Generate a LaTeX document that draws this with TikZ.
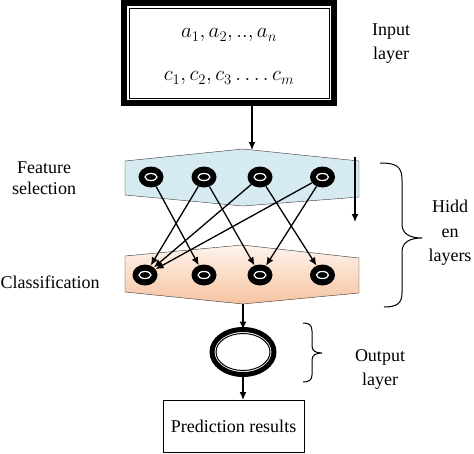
\RequirePackage{fix-cm}
\documentclass[tikz,border=0pt]{standalone}
\usepackage{fontspec}
\setmainfont{Liberation Serif}
\usepackage{tikz}
\usetikzlibrary{shapes.geometric, arrows.meta, positioning}
\definecolor{featblue}{RGB}{214,234,242}
\definecolor{clspeach}{RGB}{246,196,160}
\definecolor{clslight}{RGB}{254,244,237}
\tikzstyle{inputbox} = [rectangle, minimum width=210pt, minimum height=100pt, line width=6pt, outer sep=0pt, align=center, font=\fontsize{21}{25}\selectfont, draw=black]
\tikzstyle{neuron} = [ellipse, minimum width=25pt, minimum height=21pt, inner sep=0pt, fill=black, path picture={\draw[white, line width=1.2pt] (path picture bounding box.center) ellipse (6pt and 3.5pt);}]
\tikzstyle{outnode} = [ellipse, minimum width=62pt, minimum height=45pt, line width=5pt, outer sep=0pt, draw=black]
\tikzstyle{resultbox} = [rectangle, minimum width=141pt, minimum height=52pt, line width=1pt, outer sep=0pt, draw=black]
\tikzstyle{layerlabel} = [align=center, inner sep=0pt]
\tikzstyle{arrow} = [line width=1.3pt, -{Latex[length=8pt, width=7pt]}]

\begin{document}
\begin{tikzpicture}[x=1pt, y=-1pt, font=\fontsize{18}{24}\selectfont]
	\useasboundingbox (0,0) rectangle (474,453);

	% layer bands
	\draw [fill=featblue, draw=black!80] (125,161) -- (243,149) -- (359,161) -- (359,197) -- (243,206) -- (125,195) -- cycle;
	\shadedraw [top color=clslight, bottom color=clspeach, draw=black!80] (125,256) -- (242,245) -- (359,258) -- (359,293) -- (243,304) -- (125,292) -- cycle;

	\node (input) [inputbox] at (229,53) {\rule{0pt}{17pt}$a_1, a_2, .., a_n$\\[18pt] $c_1, c_2, c_3 \ldots.\, c_m$};
	\draw [line width=1pt] ([xshift=5pt, yshift=-5pt]input.north west) rectangle ([xshift=-5pt, yshift=5pt]input.south east);

	\node (f1) [neuron] at (151,177) {};
	\node (f2) [neuron, right of=f1, node distance=53pt] {};
	\node (f3) [neuron, right of=f2, node distance=56pt] {};
	\node (f4) [neuron, right of=f3, node distance=62.5pt] {};
	\node (c1) [neuron, below of=f1, node distance=98pt, xshift=-6pt] {};
	\node (c2) [neuron, below of=f2, node distance=98pt] {};
	\node (c3) [neuron, below of=f3, node distance=98pt] {};
	\node (c4) [neuron, below of=f4, node distance=98pt] {};

	\node (out) [outnode] at (243,352) {};
	\draw [line width=1pt] (out.center) ellipse (27pt and 18.5pt);
	\node (res) [resultbox] at (233.5,426) {Prediction results};

	\node (inlbl) [layerlabel] at (391,44) {Input\\layer};
	\node (fslbl) [layerlabel, font=\fontsize{18}{21}\selectfont] at (44,178) {Feature\\selection};
	\node (clslbl) [layerlabel] at (50,282) {Classification};
	\node (hidlbl) [layerlabel, font=\fontsize{18}{24.5}\selectfont] at (450,233) {Hidd\\en\\layers};
	\node (outlbl) [layerlabel] at (380,369) {Output\\layer};

	\coordinate (fsin) at (252,150);
	\coordinate (clsout) at (243,304);
	\coordinate (sidetop) at (355,157);
	\coordinate (sidebot) at (355,222);

	\draw [arrow] (input.south -| fsin) -- (fsin);
	\draw [arrow] (sidetop) -- (sidebot);
	\draw [arrow] (f1) -- (c2);
	\draw [arrow] (f2) -- (c1);
	\draw [arrow] (f2) -- (c3);
	\draw [arrow] (f3) -- (c1);
	\draw [arrow] (f3) -- (c4);
	\draw [arrow] (f4) -- (c1);
	\draw [arrow] (f4) -- (c3);
	\draw [arrow] (clsout) -- (out.north);
	\draw [arrow] (out.south) -- (out.south |- res.north);

	% braces
	\draw [line width=1pt] (380,163) .. controls (396,163) and (402,166) .. (402,180) -- (402,224) .. controls (402,234) and (410,238) .. (422,238) .. controls (410,238) and (402,242) .. (402,252) -- (402,293) .. controls (402,304) and (396,307) .. (384,307);
	\draw [line width=1pt] (303,323) .. controls (309,323) and (312,325) .. (312,331) -- (312,346) .. controls (312,351) and (316,353) .. (322,353) .. controls (316,353) and (312,355) .. (312,360) -- (312,375) .. controls (312,380) and (309,382) .. (303,382);
\end{tikzpicture}
\end{document}
